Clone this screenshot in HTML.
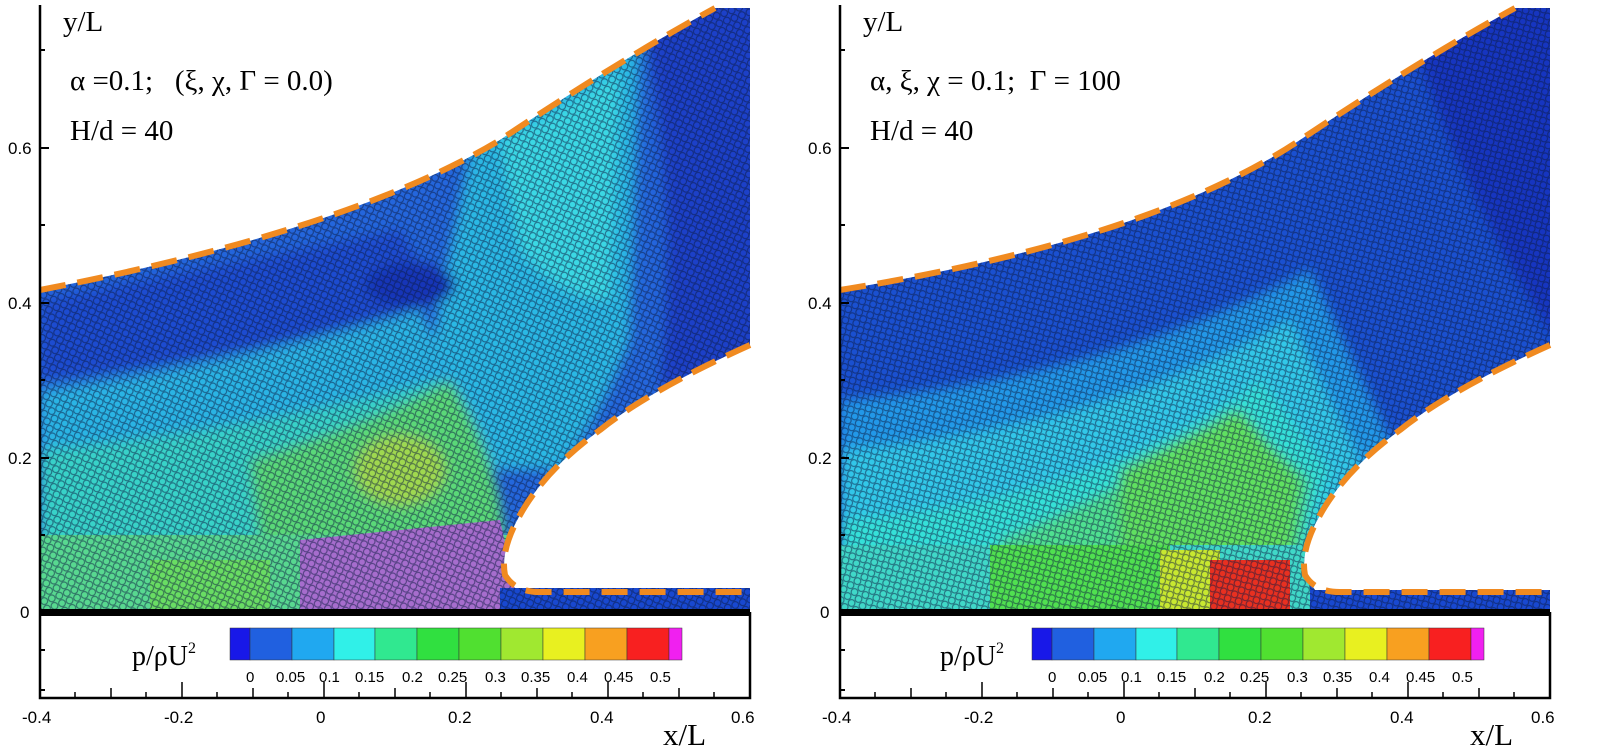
<!DOCTYPE html>
<html><head><meta charset="utf-8"><style>
html,body{margin:0;padding:0;background:#fff;}
svg{display:block}
.s{font-family:"Liberation Serif",serif;fill:#000;white-space:pre}
.t{font-family:"Liberation Sans",sans-serif;font-size:17px;fill:#000}
.c{font-family:"Liberation Sans",sans-serif;font-size:15px;fill:#000}
</style></head><body>
<svg width="1600" height="755" viewBox="0 0 1600 755" xmlns="http://www.w3.org/2000/svg">
<defs>
<pattern id="dots" width="8" height="8" patternUnits="userSpaceOnUse" patternTransform="rotate(-20)">
<circle cx="4" cy="4" r="3.4" fill="none" stroke="#0a1a40" stroke-opacity="0.55" stroke-width="1.1"/>
</pattern>
<pattern id="dots2" width="8" height="8" patternUnits="userSpaceOnUse" patternTransform="rotate(-30)">
<circle cx="4" cy="4" r="3.4" fill="none" stroke="#0a1a40" stroke-opacity="0.55" stroke-width="1.1"/>
</pattern>
<filter id="bl" x="-50%" y="-50%" width="200%" height="200%"><feGaussianBlur stdDeviation="18"/></filter>
<filter id="bl2" x="-50%" y="-50%" width="200%" height="200%"><feGaussianBlur stdDeviation="6"/></filter>
<clipPath id="jetL"><path d="M40,290 Q350,230 500,140 Q620,60 715,8 L750,8 L750,345 Q650,390 600,430 Q545,470 520,515 Q500,550 505,575 L515,588 L750,588 L750,612 L40,612 Z"/></clipPath>
<clipPath id="jetR"><path d="M840,290 Q1150,240 1300,140 Q1420,60 1515,8 L1550,8 L1550,345 Q1450,390 1400,430 Q1345,470 1320,515 Q1300,550 1305,575 L1315,590 L1550,590 L1550,612 L840,612 Z"/></clipPath>
</defs>

<!-- LEFT PANEL fill -->
<g clip-path="url(#jetL)">
<rect x="40" y="0" width="710" height="612" fill="#2466dc"/>
<g filter="url(#bl2)">
<path d="M470,150 Q560,90 640,40 L630,340 Q600,420 560,470 L470,470 Q420,400 440,300 Z" fill="#2cb8e4"/>
<path d="M500,140 Q560,110 620,70 L610,300 Q560,300 520,250 Z" fill="#3ad8e4"/>
<path d="M640,0 L760,0 L760,350 L660,390 Q680,200 640,0 Z" fill="#1a40c8"/>
<path d="M40,300 Q250,260 400,230 L440,300 Q300,350 40,380 Z" fill="#1c4cd0"/>
<ellipse cx="410" cy="285" rx="45" ry="22" fill="#1434b8"/>
<path d="M40,390 Q250,360 420,310 Q460,380 470,470 L470,560 L40,560 Z" fill="#2cb4e4"/>
<path d="M40,450 Q250,430 440,380 Q480,450 490,540 L40,560 Z" fill="#38d2c8"/>
<path d="M250,460 Q380,420 450,380 Q500,460 505,540 L260,545 Z" fill="#5ad878"/>
<ellipse cx="400" cy="470" rx="45" ry="35" fill="#a0d850"/>
</g>
<rect x="40" y="535" width="470" height="77" fill="#58d890"/>
<rect x="150" y="560" width="120" height="52" fill="#70e050" opacity="0.7"/>
<path d="M300,540 L500,520 L520,612 L300,612 Z" fill="#b45ad8" opacity="0.85"/>
<rect x="500" y="588" width="250" height="24" fill="#1848d0"/>
<rect x="40" y="0" width="710" height="612" fill="url(#dots)"/>
</g>
<path d="M40,290 Q350,230 500,140 Q620,60 715,8" fill="none" stroke="#f08a20" stroke-width="6" stroke-dasharray="26,12"/>
<path d="M750,345 Q650,390 600,430 Q545,470 520,515 Q500,550 505,575 Q515,592 540,592 L750,592" fill="none" stroke="#f08a20" stroke-width="6" stroke-dasharray="26,12"/>

<!-- RIGHT PANEL fill -->
<g clip-path="url(#jetR)">
<rect x="840" y="0" width="710" height="612" fill="#1a50d0"/>
<g filter="url(#bl2)">
<path d="M840,400 Q1100,380 1310,270 L1400,460 L1330,560 L840,560 Z" fill="#2298e8"/>
<path d="M840,450 Q1100,430 1290,320 L1360,460 L1310,560 L840,560 Z" fill="#30c8e8"/>
<path d="M840,520 Q1100,500 1260,380 L1330,470 L1300,560 L840,560 Z" fill="#36e0d8"/>
<path d="M1000,540 Q1150,480 1230,410 L1310,480 L1300,560 L1000,560 Z" fill="#50e090"/>
<path d="M1120,470 Q1200,430 1240,410 L1300,480 L1290,560 L1120,560 Z" fill="#60e060"/>
<path d="M1400,0 L1560,0 L1560,345 Q1460,200 1400,0 Z" fill="#1434c0"/>
</g>
<rect x="840" y="545" width="470" height="67" fill="#40d8c8"/>
<rect x="990" y="545" width="180" height="67" fill="#50e050"/>
<rect x="1160" y="550" width="60" height="62" fill="#c8e830"/>
<rect x="1210" y="560" width="80" height="52" fill="#e83020"/>
<rect x="1290" y="575" width="20" height="37" fill="#40d8c8"/>
<rect x="1310" y="590" width="240" height="22" fill="#1848d0"/>
<rect x="840" y="0" width="710" height="612" fill="url(#dots2)"/>
</g>
<path d="M840,290 Q1150,240 1300,140 Q1420,60 1515,8" fill="none" stroke="#f08a20" stroke-width="6" stroke-dasharray="26,12"/>
<path d="M1550,345 Q1450,390 1400,430 Q1345,470 1320,515 Q1300,550 1305,575 Q1315,592 1340,592 L1550,592" fill="none" stroke="#f08a20" stroke-width="6" stroke-dasharray="26,12"/>

<!-- AXES -->
<g stroke="#000" fill="none">
<path d="M40,5 L40,698 L750,698 L750,612" stroke-width="2.5"/>
<path d="M40,148h9M40,303h9M40,458h9M40,612h9M40,50h5M40,225h5M40,380h5M40,535h5M40,650h5M40,690h5" stroke-width="2"/>
<path d="M111,698v-10M182,698v-16M253,698v-10M324,698v-16M395,698v-10M466,698v-16M537,698v-10M608,698v-16M679,698v-10M75,698v-6M146,698v-6M217,698v-6M288,698v-6M359,698v-6M430,698v-6M501,698v-6M572,698v-6M643,698v-6M714,698v-6" stroke-width="1.5"/>
<path d="M840,5 L840,698 L1550,698 L1550,612" stroke-width="2.5"/>
<path d="M840,148h9M840,303h9M840,458h9M840,612h9M840,50h5M840,225h5M840,380h5M840,535h5M840,650h5M840,690h5" stroke-width="2"/>
<path d="M911,698v-10M982,698v-16M1053,698v-10M1124,698v-16M1195,698v-10M1266,698v-16M1337,698v-10M1408,698v-16M1479,698v-10M875,698v-6M946,698v-6M1017,698v-6M1088,698v-6M1159,698v-6M1230,698v-6M1301,698v-6M1372,698v-6M1443,698v-6M1514,698v-6" stroke-width="1.5"/>
</g>
<rect x="40" y="609" width="710" height="7" fill="#000"/>
<rect x="840" y="609" width="710" height="7" fill="#000"/>

<g class="t">
<text x="8" y="154">0.6</text><text x="8" y="309">0.4</text><text x="8" y="464">0.2</text><text x="20" y="618">0</text>
<text x="22" y="723">-0.4</text><text x="164" y="723">-0.2</text><text x="316" y="723">0</text><text x="448" y="723">0.2</text><text x="590" y="723">0.4</text><text x="731" y="723">0.6</text>
<text x="808" y="154">0.6</text><text x="808" y="309">0.4</text><text x="808" y="464">0.2</text><text x="820" y="618">0</text>
<text x="822" y="723">-0.4</text><text x="964" y="723">-0.2</text><text x="1116" y="723">0</text><text x="1248" y="723">0.2</text><text x="1390" y="723">0.4</text><text x="1531" y="723">0.6</text>
</g>

<g class="s">
<text x="63" y="31" font-size="29">y/L</text>
<text x="70" y="90" font-size="29" xml:space="preserve">α =0.1;   (ξ, χ, Γ = 0.0)</text>
<text x="70" y="140" font-size="29">H/d = 40</text>
<text x="663" y="745" font-size="31">x/L</text>
<text x="863" y="31" font-size="29">y/L</text>
<text x="870" y="90" font-size="29" xml:space="preserve">α, ξ, χ = 0.1;  Γ = 100</text>
<text x="870" y="140" font-size="29">H/d = 40</text>
<text x="1470" y="745" font-size="31">x/L</text>
<text x="132" y="665" font-size="28">p/ρU<tspan dy="-12" font-size="16">2</tspan></text>
<text x="940" y="665" font-size="28">p/ρU<tspan dy="-12" font-size="16">2</tspan></text>
</g>

<g id="cb" stroke="#333" stroke-width="0.5">
<rect x="230" y="628" width="20" height="32" fill="#1818e8"/>
<rect x="250" y="628" width="42" height="32" fill="#2060e0"/>
<rect x="292" y="628" width="42" height="32" fill="#20a8f0"/>
<rect x="334" y="628" width="41" height="32" fill="#30f0e8"/>
<rect x="375" y="628" width="42" height="32" fill="#30e890"/>
<rect x="417" y="628" width="42" height="32" fill="#30e040"/>
<rect x="459" y="628" width="42" height="32" fill="#50e030"/>
<rect x="501" y="628" width="42" height="32" fill="#a0e830"/>
<rect x="543" y="628" width="42" height="32" fill="#e8f020"/>
<rect x="585" y="628" width="42" height="32" fill="#f8a020"/>
<rect x="627" y="628" width="42" height="32" fill="#f82020"/>
<rect x="669" y="628" width="13" height="32" fill="#f020f0"/>
</g>
<use href="#cb" x="802" y="0"/>
<g class="c">
<text x="246" y="682">0</text><text x="276" y="682">0.05</text><text x="319" y="682">0.1</text><text x="355" y="682">0.15</text><text x="402" y="682">0.2</text><text x="438" y="682">0.25</text><text x="485" y="682">0.3</text><text x="521" y="682">0.35</text><text x="567" y="682">0.4</text><text x="604" y="682">0.45</text><text x="650" y="682">0.5</text>
<text x="1048" y="682">0</text><text x="1078" y="682">0.05</text><text x="1121" y="682">0.1</text><text x="1157" y="682">0.15</text><text x="1204" y="682">0.2</text><text x="1240" y="682">0.25</text><text x="1287" y="682">0.3</text><text x="1323" y="682">0.35</text><text x="1369" y="682">0.4</text><text x="1406" y="682">0.45</text><text x="1452" y="682">0.5</text>
</g>
</svg>
</body></html>
